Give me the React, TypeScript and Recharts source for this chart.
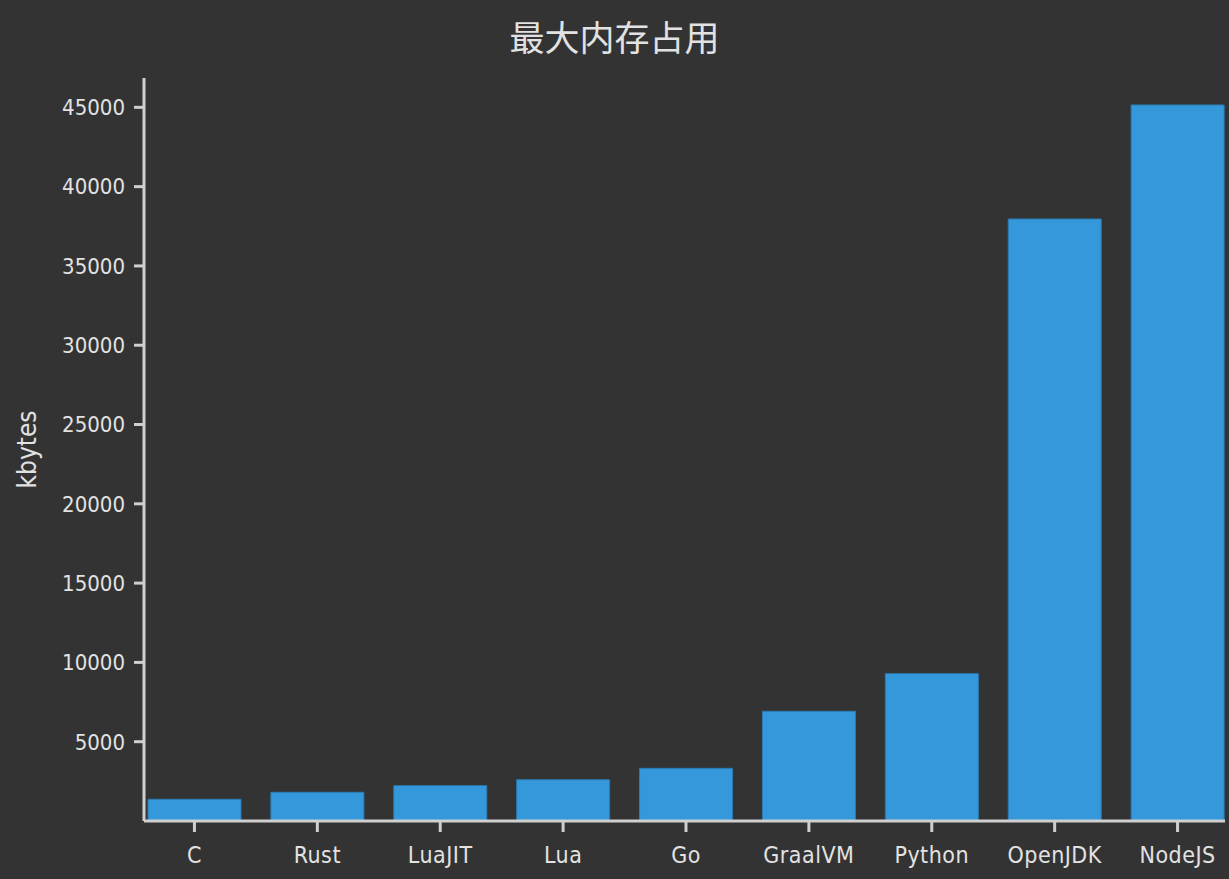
import React from "react"
import { BarChart, Bar, XAxis, YAxis } from "recharts"

const languages = ["C", "Rust", "LuaJIT", "Lua", "Go", "GraalVM", "Python", "OpenJDK", "NodeJS"]
const maxMemory = [1370, 1810, 2230, 2600, 3320, 6920, 9290, 37960, 45150]
const yTicks = [5000, 10000, 15000, 20000, 25000, 30000, 35000, 40000, 45000]

const data = languages.map((name, i) => ({ name, kbytes: maxMemory[i] }))

const FONT = "'DejaVu Sans Condensed', 'DejaVu Sans', sans-serif"
const TEXT = "#e2e2e2"
const AXIS = "#cfcfcf"

const YLabel = (props: any) => {
  const { viewBox } = props
  const x = viewBox.x + 27
  const y = viewBox.y + viewBox.height / 2
  return (
    <text
      x={x}
      y={y}
      transform={`rotate(-90 ${x} ${y})`}
      textAnchor="middle"
      dominantBaseline="central"
      fill={TEXT}
      fontSize={26}
      fontFamily={FONT}
    >
      kbytes
    </text>
  )
}

export default function App() {
  return (
    <div style={{ position: "fixed", left: 0, top: 0, width: 1229, height: 879, background: "#333333" }}>
      <div
        style={{
          position: "absolute",
          left: 0,
          top: 16,
          width: 1229,
          textAlign: "center",
          color: TEXT,
          fontSize: 35,
          lineHeight: "40px",
          fontFamily: "'Noto Sans CJK SC', sans-serif",
        }}
      >
        最大内存占用
      </div>
      <BarChart
        width={1229}
        height={879}
        data={data}
        margin={{ top: 78, right: 4, left: 0, bottom: 0 }}
        barCategoryGap={15}
      >
        <XAxis
          dataKey="name"
          height={58}
          padding={{ left: -11, right: -14 }}
          axisLine={{ stroke: AXIS, strokeWidth: 3 }}
          tickLine={{ stroke: AXIS, strokeWidth: 3 }}
          tickSize={11}
          tickMargin={15}
          tick={{ fill: TEXT, fontSize: 23, fontFamily: FONT, letterSpacing: 0.5 }}
          interval={0}
        />
        <YAxis
          width={144}
          domain={[0, 46850]}
          ticks={yTicks}
          axisLine={{ stroke: AXIS, strokeWidth: 3 }}
          tickLine={{ stroke: AXIS, strokeWidth: 3 }}
          tickSize={10}
          tickMargin={9}
          tick={{ fill: TEXT, fontSize: 22, fontFamily: FONT }}
          label={<YLabel />}
        />
        <Bar dataKey="kbytes" fill="#3498db" stroke="#2b7bb3" strokeWidth={1} isAnimationActive={false} />
      </BarChart>
    </div>
  )
}
